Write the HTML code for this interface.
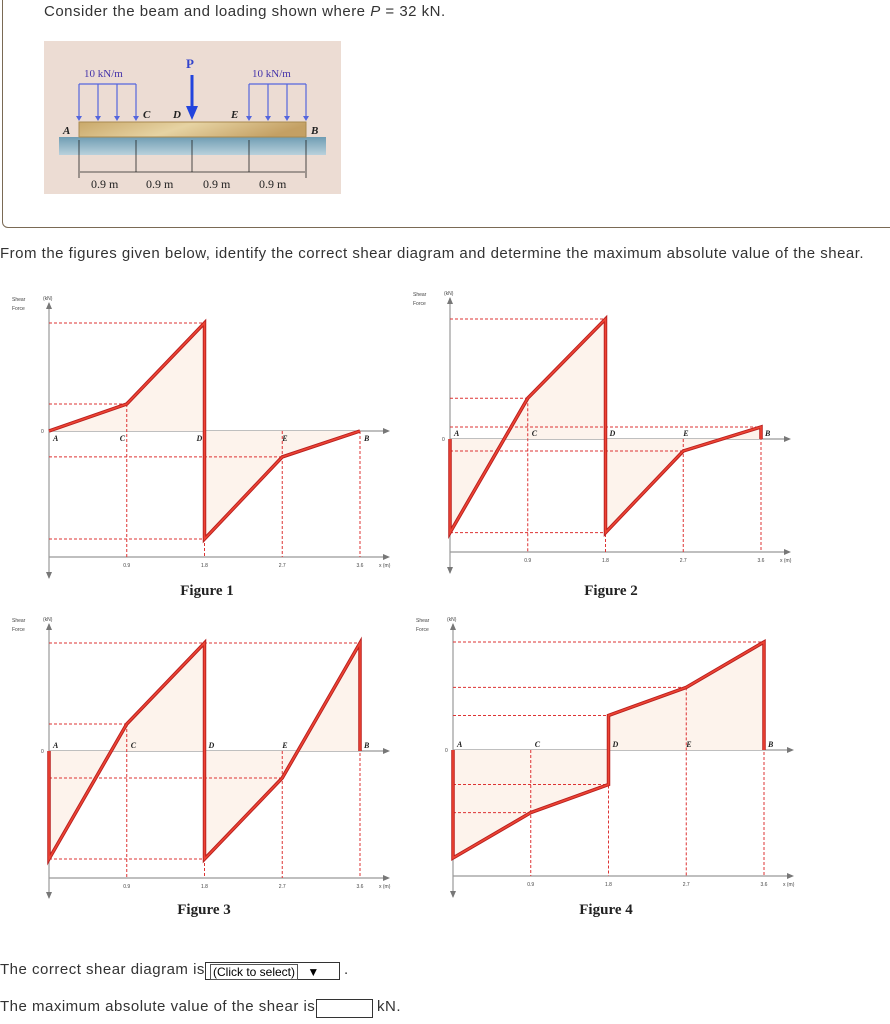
<!DOCTYPE html>
<html><head><meta charset="utf-8"><style>
body{margin:0;width:890px;height:1024px;position:relative;background:#fff;font-family:"Liberation Sans",sans-serif;overflow:hidden}
.t{position:absolute;color:#333;white-space:nowrap;font-size:15px;letter-spacing:0.5px}
</style></head><body>
<div style="position:absolute;left:2px;top:-10px;width:900px;height:236px;border:1.5px solid #7a6a55;border-radius:6px;"></div>
<div class="t" style="left:44px;top:3px">Consider the beam and loading shown where <i>P</i> = 32 kN.</div>
<div class="t" style="left:0;top:245px">From the figures given below, identify the correct shear diagram and determine the maximum absolute value of the shear.</div>

<svg id="s" width="890" height="1024" style="position:absolute;left:0;top:0">
<g>
<rect x="44" y="41" width="297" height="153" fill="#ecdcd3"/>
<defs><linearGradient id="bm" x1="0" y1="0" x2="1" y2="0.2"><stop offset="0" stop-color="#c9a86a"/><stop offset="0.5" stop-color="#e6d3a3"/><stop offset="1" stop-color="#c4a064"/></linearGradient>
<linearGradient id="gr" x1="0" y1="0" x2="0" y2="1"><stop offset="0" stop-color="#6f9db3"/><stop offset="1" stop-color="#b9d1dc"/></linearGradient></defs>
<rect x="59" y="137" width="267" height="18" fill="url(#gr)"/>
<rect x="79" y="122" width="227" height="15" fill="url(#bm)" stroke="#a88a50"/>
<g stroke="#5566dd" fill="none" stroke-width="1.2">
<path d="M79 84H136M249 84H306"/>
<path d="M79 84V118M98 84V118M117 84V118M136 84V118M249 84V118M268 84V118M287 84V118M306 84V118"/>
</g>
<g fill="#5566dd"><path d="M76 116l3 5 3-5zM95 116l3 5 3-5zM114 116l3 5 3-5zM133 116l3 5 3-5zM246 116l3 5 3-5zM265 116l3 5 3-5zM284 116l3 5 3-5zM303 116l3 5 3-5z"/></g>
<path d="M192 75V110" stroke="#2244dd" stroke-width="3"/><path d="M186 106l6 14 6-14z" fill="#2244dd"/>
<g font-family="Liberation Serif,serif" font-size="11" fill="#4433aa"><text x="84" y="77">10 kN/m</text><text x="252" y="77">10 kN/m</text></g>
<text x="186" y="68" font-family="Liberation Serif,serif" font-weight="bold" font-size="13" fill="#3344cc">P</text>
<g font-family="Liberation Serif,serif" font-weight="bold" font-style="italic" font-size="11" fill="#222">
<text x="63" y="134">A</text><text x="143" y="118">C</text><text x="173" y="118">D</text><text x="231" y="118">E</text><text x="311" y="134">B</text></g>
<g stroke="#222" stroke-width="0.8"><path d="M79 140V178M136 140V172M192 140V172M249 140V172M306 140V178M80 172H305"/></g>
<g font-family="Liberation Serif,serif" font-size="12" fill="#222"><text x="91" y="188">0.9 m</text><text x="146" y="188">0.9 m</text><text x="203" y="188">0.9 m</text><text x="259" y="188">0.9 m</text></g>
</g>
</svg>

<div class="t" style="left:0;top:961px">The correct shear diagram is</div>
<div style="position:absolute;left:205px;top:962px;width:135px;height:18px;border:1px solid #333;font-size:12px;line-height:18px;box-sizing:border-box;padding-left:4px">
<span style="border:1px solid #555;padding:0 2px">(Click to select)</span> <span style="margin-left:6px">▼</span></div>
<div class="t" style="left:344px;top:961px">.</div>
<div class="t" style="left:0;top:998px">The maximum absolute value of the shear is</div>
<div style="position:absolute;left:316px;top:999px;width:57px;height:19px;border:1px solid #333;box-sizing:border-box"></div>
<div class="t" style="left:377px;top:998px">kN.</div>

<script>
const xTicks = [0.9, 1.8, 2.7, 3.6];
const tickLabels = ["0.9", "1.8", "2.7", "3.6"];
const pointLabels = ["A", "C", "D", "E", "B"];
const fig1X = [0, 0.9, 1.8, 1.8, 2.7, 3.6];
const fig1V = [0, 6.25, 25, -25, -6, 0];
const fig2X = [0, 0, 0.9, 1.8, 1.8, 2.7, 3.6, 3.6];
const fig2V = [0, -19.5, 8.5, 25, -19.5, -2.5, 2.5, 0];
const fig3X = [0, 0, 0.9, 1.8, 1.8, 2.7, 3.6, 3.6];
const fig3V = [0, -25, 6.25, 25, -25, -6.25, 25, 0];
const fig4X = [0, 0, 0.9, 1.8, 1.8, 2.7, 3.6, 3.6];
const fig4V = [0, -25, -14.5, -8, 8, 14.5, 25, 0];

const NS = "http://www.w3.org/2000/svg";
const svg = document.getElementById("s");
function mk(tag, attrs, parent) {
  const e = document.createElementNS(NS, tag);
  for (const k in attrs) e.setAttribute(k, attrs[k]);
  parent.appendChild(e);
  return e;
}
function fig(n, X, V, c) {
  const g = mk("g", {}, svg);
  
  
  const sx = x => c.ox + x * (c.x36 - c.ox) / 3.6;
  const sy = v => c.zy - v * c.k;
  const ax = mk("path", {d: `M${c.ox} ${c.top}V${c.bot} M${c.ox} ${c.zy}H${c.ox+336} M${c.ox} ${c.by}H${c.ox+336}`, stroke: "#999", "stroke-width": 1.2, fill: "none"}, g);
  
  
  mk("path", {d: `M${c.ox-3} ${c.top+6}l3 -7 3 7z M${c.ox-3} ${c.bot-6}l3 7 3 -7z M${c.ox+334} ${c.zy-3}l7 3 -7 3z M${c.ox+334} ${c.by-3}l7 3 -7 3z`, fill: "#777"}, g);
  const pts = X.map((x, i) => sx(x) + "," + sy(V[i])).join(" ");
  const fl = mk("polygon", {points: `${sx(X[0])},${c.zy} ${pts} ${sx(X[X.length-1])},${c.zy}`, fill: "#fdf3ec"}, g);
  
  
  let d = "";
  X.forEach((x, i) => { if (V[i] !== 0) d += `M${c.ox} ${sy(V[i])}H${sx(x)} `; });
  xTicks.forEach(t => {
    let top = c.zy;
    X.forEach((x, i) => { if (Math.abs(x - t) < 1e-6) top = Math.min(top, sy(V[i])); });
    d += `M${sx(t)} ${top}V${c.by} `;
  });
  const gd = mk("path", {d, stroke: "#d33", "stroke-width": 1, "stroke-dasharray": "3 2", fill: "none"}, g);
  
  
  const ln = mk("polyline", {points: pts, fill: "none", stroke: "#b82020", "stroke-width": 3.5, "stroke-linejoin": "miter"}, g);
  
  
  mk("polyline", {points: pts, fill: "none", stroke: "#ee4433", "stroke-width": 1.6}, g);
  const lx = [0, 0.9, 1.8, 2.7, 3.6];
  const off = c.below ? [4, -7, -8, 0, 4] : [4, 4, 4, 0, 4];
  pointLabels.forEach((p, i) => {
    const t = mk("text", {x: sx(lx[i]) + off[i], y: c.below ? c.zy + 10 : c.zy - 3, "font-family": "Liberation Serif,serif", "font-style": "italic", "font-weight": "bold", "font-size": 8, fill: "#222"}, g);
    t.textContent = p;
    
    
  });
  xTicks.forEach((t, i) => {
    const e = mk("text", {x: sx(t), y: c.by + 10, "text-anchor": "middle", "font-size": 5, fill: "#444"}, g);
    e.textContent = tickLabels[i];
    
    
  });
  const xl = mk("text", {x: c.ox + 330, y: c.by + 10, "font-size": 5, fill: "#444"}, g);
  xl.textContent = "x (m)";
  
  
  const z = mk("text", {x: c.ox - 8, y: c.zy + 2, "font-size": 5, fill: "#444"}, g);
  z.textContent = "0";
  
  
  const y1 = mk("text", {x: c.ox - 37, y: c.top - 2, "font-size": 5, fill: "#444"}, g);
  y1.textContent = "Shear";
  
  
  const y2 = mk("text", {x: c.ox - 37, y: c.top + 7, "font-size": 5, fill: "#444"}, g);
  y2.textContent = "Force";
  const y3 = mk("text", {x: c.ox - 6, y: c.top - 3, "font-size": 5, fill: "#444"}, g);
  y3.textContent = "(kN)";
  
  
  const ti = mk("text", {x: c.tx, y: c.ty, "text-anchor": "middle", "font-family": "Liberation Serif,serif", "font-weight": "bold", "font-size": 15, fill: "#222"}, g);
  ti.textContent = "Figure " + n;
  
  
}
fig(1, fig1X, fig1V, {ox: 49, x36: 360, zy: 431, by: 557, top: 303, bot: 578, k: 4.32, below: true, tx: 207, ty: 595});
fig(2, fig2X, fig2V, {ox: 450, x36: 761, zy: 439, by: 552, top: 298, bot: 573, k: 4.8, below: false, tx: 611, ty: 595});
fig(3, fig3X, fig3V, {ox: 49, x36: 360, zy: 751, by: 878, top: 624, bot: 898, k: 4.32, below: false, tx: 204, ty: 914});
fig(4, fig4X, fig4V, {ox: 453, x36: 764, zy: 750, by: 876, top: 624, bot: 897, k: 4.32, below: false, tx: 606, ty: 914});
</script>
</body></html>
